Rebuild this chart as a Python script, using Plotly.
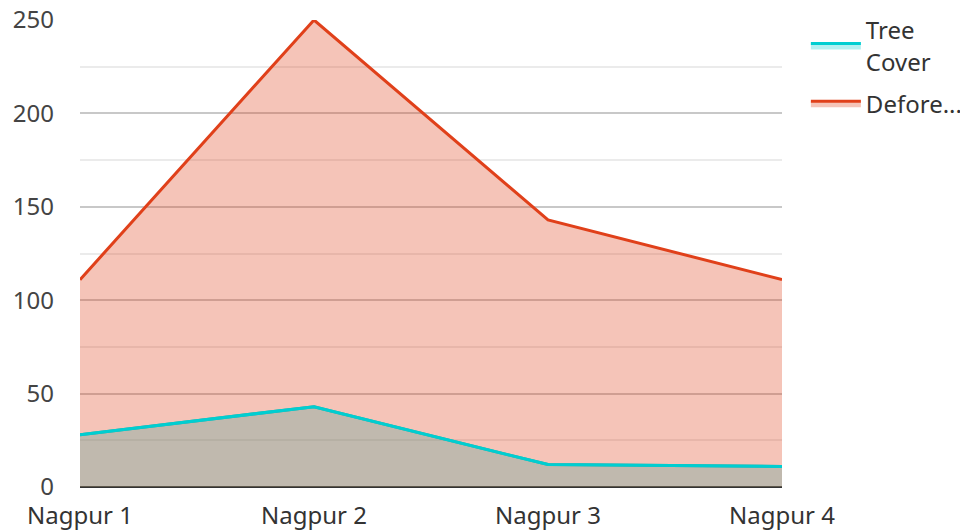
import plotly.graph_objects as go

categories = ["Nagpur 1", "Nagpur 2", "Nagpur 3", "Nagpur 4"]
tree_cover = [28, 43, 12, 11]
deforestation = [111, 250, 143, 111]
series_names = ["Tree<br>Cover", "Defore..."]
y_ticks = [0, 50, 100, 150, 200, 250]

fig = go.Figure()
fig.add_trace(go.Scatter(
    x=categories, y=tree_cover, name=series_names[0], mode="lines",
    legendgroup="tree",
    line=dict(color="#00CED1", width=3), fill="tozeroy",
    fillcolor="rgba(0,206,209,0.3)",
))
fig.add_trace(go.Scatter(
    x=categories, y=deforestation, name=series_names[1], mode="lines",
    legendgroup="defo",
    line=dict(color="#E0401A", width=3), fill="tozeroy",
    fillcolor="rgba(224,64,26,0.31)",
))
# redraw tree cover line on top
fig.add_trace(go.Scatter(
    x=categories, y=tree_cover, mode="lines", showlegend=False,
    legendgroup="tree",
    line=dict(color="#00CED1", width=3), hoverinfo="skip",
))

fig.update_layout(
    width=960, height=523,
    margin=dict(l=72, r=186, t=12, b=44, autoexpand=False),
    paper_bgcolor="white", plot_bgcolor="white",
    font=dict(family="Noto Sans, Open Sans, sans-serif", size=24, color="#444444"),
    legend=dict(x=1.034, y=1.026, xanchor="left", yanchor="top",
                font=dict(size=24, color="#333333"), tracegroupgap=8,
                itemwidth=50),
    showlegend=True,
)
fig.update_xaxes(
    range=[0, 3], showgrid=False, zeroline=False, showline=False,
    tickfont=dict(size=24, color="#333333"), ticks="", automargin=False,
    ticklabelstandoff=12, ticklabeloverflow="allow",
)
fig.update_yaxes(
    range=[0, 250], tickvals=y_ticks, showgrid=True, gridcolor="#C8C8C8",
    gridwidth=1.5, zeroline=True, zerolinecolor="#333333", zerolinewidth=2,
    minor=dict(dtick=25, showgrid=True, gridcolor="#EBEBEB", gridwidth=1.5),
    tickfont=dict(size=24, color="#444444"), ticks="", ticklabelstandoff=25,
    automargin=False, ticklabeloverflow="allow",
)

fig.write_html("out.html")
